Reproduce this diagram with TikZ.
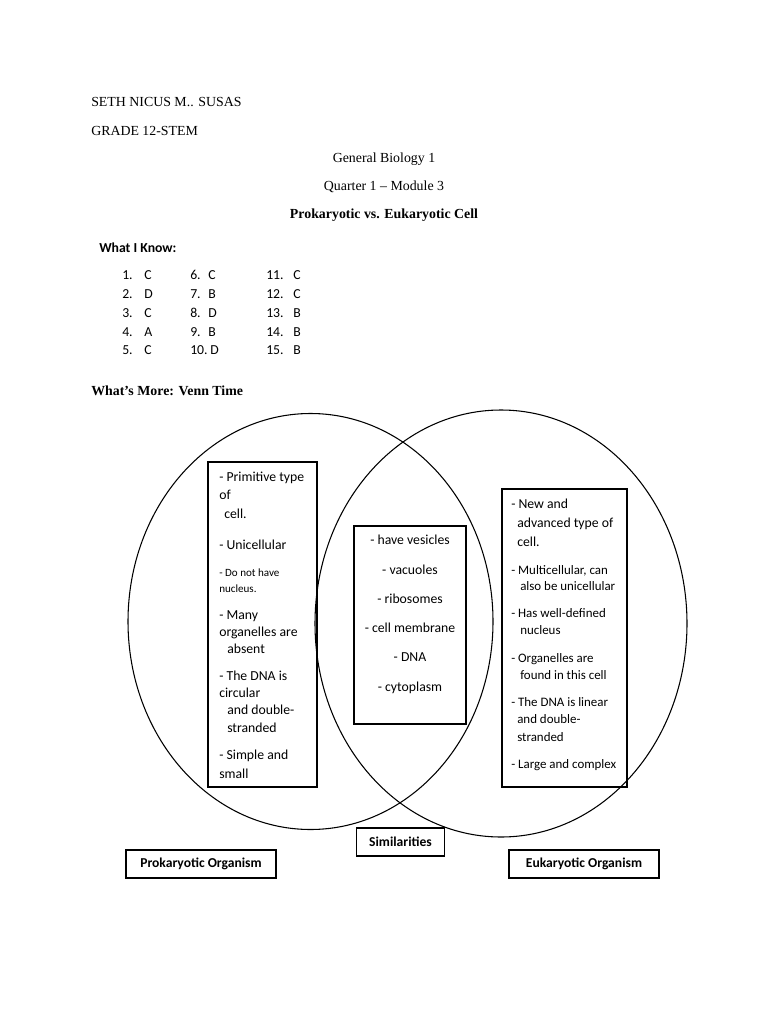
\documentclass[tikz,border=0pt]{standalone}
\usepackage{fontspec}
\setmainfont{Liberation Serif}
\newfontfamily\calfont{Carlito}
\usetikzlibrary{shapes.geometric}
\begin{document}
\begin{tikzpicture}[x=0.75pt,y=-0.75pt,
  tnr/.style={font=\fontsize{10.4}{12}\selectfont,inner sep=0pt,anchor=base west},
  tnrb/.style={tnr,font=\fontsize{10.4}{12}\selectfont\bfseries},
  cal/.style={font=\calfont\fontsize{10.3}{12}\selectfont,inner sep=0pt,anchor=base west},
  calb/.style={cal,font=\calfont\bfseries\fontsize{10.3}{12}\selectfont},
  calbs/.style={cal,font=\calfont\bfseries\fontsize{10.2}{12}\selectfont},
  calm/.style={cal,font=\calfont\fontsize{9.7}{11}\selectfont},
  cals/.style={cal,font=\calfont\fontsize{8.3}{10}\selectfont},
  boxd/.style={draw,line width=0.9pt,inner sep=0pt},
  venn/.style={draw,line width=0.8pt,ellipse,inner sep=0pt}]
\useasboundingbox (0,0) rectangle (768,1024);
\fill[white] (0,0) rectangle (768,1024);

% header
\node[tnr] (name) at (91,107) {SETH NICUS M.. SUSAS};
\node[tnr] (grade) at (91,135) {GRADE 12-STEM};
\node[tnr,anchor=base] (subj) at (384,162) {General Biology 1};
\node[tnr,anchor=base] (mod) at (384,190) {Quarter 1 -- Module 3};
\node[tnrb,anchor=base] (title) at (384,218) {Prokaryotic vs. Eukaryotic Cell};

% What I Know
\node[calb] (wik) at (99,252) {What I Know:};
\foreach \n/\a [count=\i] in {1/C,2/D,3/C,4/A,5/C}{
  \node[cal] (qn\n) at (122,261+18.75*\i) {\n.};
  \node[cal] (qa\n) at (144,261+18.75*\i) {\a};
}
\foreach \n/\a [count=\i] in {6/C,7/B,8/D,9/B,10/D}{
  \node[cal] (qn\n) at (190,261+18.75*\i) {\n.};
}
\foreach \n/\a [count=\i] in {6/C,7/B,8/D,9/B}{
  \node[cal] (qa\n) at (208,261+18.75*\i) {\a};
}
\node[cal] (qa10) at (210,261+18.75*5) {D};
\foreach \n/\a [count=\i] in {11/C,12/C,13/B,14/B,15/B}{
  \node[cal] (qn\n) at (266,261+18.75*\i) {\n.};
  \node[cal] (qa\n) at (293,261+18.75*\i) {\a};
}

\node[tnrb] (more) at (91,395) {What’s More: Venn Time};

% Venn ellipses
\node[venn,minimum width=273.75pt,minimum height=312pt] (prok) at (310.5,621.5) {};
\node[venn,minimum width=279pt,minimum height=320.25pt] (euk) at (501,623.5) {};

% boxes
\node[boxd,minimum width=81.75pt,minimum height=243.75pt] (lbox) at (262.5,624.5) {};
\node[boxd,minimum width=84pt,minimum height=148.5pt] (mbox) at (410,625) {};
\node[boxd,minimum width=93.75pt,minimum height=223.5pt] (rbox) at (564.5,638) {};

% left box text
\node[cal] (l1) at (219,481) {- Primitive type};
\node[cal] (l2) at (219,499) {of};
\node[cal] (l3) at (224,518) {cell.};
\node[cal] (l4) at (219,549) {- Unicellular};
\node[cals] (l5) at (219,576) {- Do not have};
\node[cals] (l6) at (219,592) {nucleus.};
\node[cal] (l7) at (219,619) {- Many};
\node[cal] (l8) at (219,636) {organelles are};
\node[cal] (l9) at (227,653) {absent};
\node[cal] (l10) at (219,680) {- The DNA is};
\node[cal] (l11) at (219,697) {circular};
\node[cal] (l12) at (227,714) {and double-};
\node[cal] (l13) at (227,732) {stranded};
\node[cal] (l14) at (219,759) {- Simple and};
\node[cal] (l15) at (219,778) {small};

% middle box text
\foreach \t/\y [count=\i] in {- have vesicles/544,- vacuoles/574,- ribosomes/603,- cell membrane/632,- DNA/661,- cytoplasm/691}{
  \node[cal,anchor=base] (m\i) at (410,\y) {\t};
}

% right box text
\node[cal] (r1) at (511,508) {- New and};
\node[cal] (r2) at (517,527) {advanced type of};
\node[cal] (r3) at (517,546) {cell.};
\node[calm] (r4) at (511,574) {- Multicellular, can};
\node[calm] (r5) at (520,590) {also be unicellular};
\node[calm] (r6) at (511,617) {- Has well-defined};
\node[calm] (r7) at (520,634) {nucleus};
\node[calm] (r8) at (511,662) {- Organelles are};
\node[calm] (r9) at (520,679) {found in this cell};
\node[calm] (r10) at (511,706) {- The DNA is linear};
\node[calm] (r11) at (517,723) {and double-};
\node[calm] (r12) at (517,741) {stranded};
\node[calm] (r13) at (511,768) {- Large and complex};

% labels
\node[boxd,minimum width=66pt,minimum height=21pt] (simbox) at (400.5,842) {};
\node[calbs,anchor=center] (sim) at (simbox.center) {Similarities};
\node[boxd,minimum width=112.5pt,minimum height=21pt] (pbox) at (201,864) {};
\node[calbs,anchor=center] (plab) at (pbox.center) {Prokaryotic Organism};
\node[boxd,minimum width=112.5pt,minimum height=21pt] (ebox) at (584,864) {};
\node[calbs,anchor=center] (elab) at (ebox.center) {Eukaryotic Organism};
\end{tikzpicture}
\end{document}
